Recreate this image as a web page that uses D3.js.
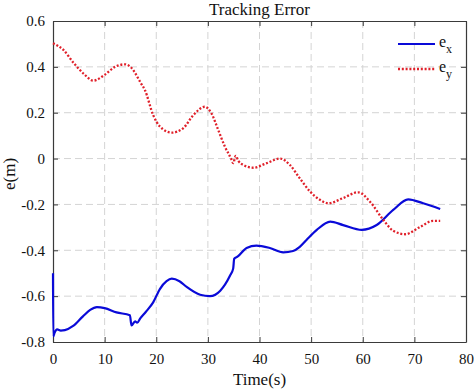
<!DOCTYPE html>
<html>
<head>
<meta charset="utf-8">
<script src="https://cdn.jsdelivr.net/npm/d3@7"></script>
<style>
  html, body { margin: 0; padding: 0; background: #fff; }
  svg { display: block; }
  text { font-family: "Liberation Serif", "DejaVu Serif", serif; fill: #111; }
</style>
</head>
<body>
<svg id="chart" width="474" height="391"></svg>
<script>
// ---- data ----
const xTicks = [0, 10, 20, 30, 40, 50, 60, 70, 80];
const yTicks = [-0.8, -0.6, -0.4, -0.2, 0, 0.2, 0.4, 0.6];
const yTickLabels = ["-0.8", "-0.6", "-0.4", "-0.2", "0", "0.2", "0.4", "0.6"];

const exTime = [0, 0.05, 0.3, 0.8, 1.5, 2.3, 3.9, 5.8, 7.2, 8.5, 10, 12.3, 14.9, 15.2, 15.9, 16.3, 16.9, 18, 19.4, 20.7, 22, 23, 24.5, 25.9, 28.5, 30.4, 32.4, 34.3, 34.9, 35.1, 35.8, 37.5, 39.4, 42, 44.6, 46.5, 47.8, 49.1, 51.1, 53.7, 56.2, 59.8, 62.7, 65.9, 68.8, 71.7, 75];
const exValue = [-0.5, -0.775, -0.76, -0.745, -0.75, -0.748, -0.73, -0.688, -0.66, -0.648, -0.652, -0.671, -0.683, -0.728, -0.71, -0.716, -0.697, -0.668, -0.627, -0.569, -0.535, -0.524, -0.535, -0.56, -0.594, -0.6, -0.576, -0.51, -0.48, -0.437, -0.427, -0.39, -0.38, -0.39, -0.409, -0.403, -0.385, -0.355, -0.311, -0.275, -0.29, -0.311, -0.29, -0.224, -0.178, -0.195, -0.22];

const eyTime = [0, 2, 4, 6, 7.8, 10, 12, 13.9, 15, 17, 17.8, 19.4, 20.7, 23, 25.2, 27.2, 29.4, 30.7, 32, 33.3, 34.6, 34.9, 35.4, 35.9, 36.9, 38.8, 41.4, 44, 45.9, 47.8, 49.8, 51.7, 53.3, 56.2, 59.1, 61.4, 64, 65.9, 68.2, 71.1, 73.6, 75];
const eyValue = [0.503, 0.474, 0.417, 0.369, 0.34, 0.365, 0.4, 0.411, 0.4, 0.33, 0.299, 0.19, 0.14, 0.113, 0.132, 0.19, 0.226, 0.197, 0.125, 0.052, -0.005, -0.02, 0.012, -0.01, -0.028, -0.04, -0.02, 0.0, -0.028, -0.086, -0.144, -0.18, -0.195, -0.172, -0.147, -0.188, -0.268, -0.315, -0.33, -0.298, -0.272, -0.272];

const seriesNames = ["x", "y"];

// ---- layout ----
const svg = d3.select("#chart");
const L = 53, R = 466, T = 21, B = 342;

const xScale = d3.scaleLinear().domain([0, 80]).range([L, R]);
const yScale = d3.scaleLinear().domain([-0.8, 0.6]).range([B, T]);

// grid
const grid = svg.append("g");
grid.selectAll("line.vx").data(xTicks.slice(1, -1)).join("line")
  .attr("x1", d => xScale(d)).attr("x2", d => xScale(d)).attr("y1", T).attr("y2", B)
  .attr("stroke", "#d4d4d4").attr("stroke-width", 1).attr("stroke-dasharray", "7,4");
grid.selectAll("line.hy").data(yTicks.slice(1, -1)).join("line")
  .attr("y1", d => yScale(d)).attr("y2", d => yScale(d)).attr("x1", L).attr("x2", R)
  .attr("stroke", "#d4d4d4").attr("stroke-width", 1).attr("stroke-dasharray", "7,4");

// axes (ticks inside, box)
const axisColor = "#3a3a3a";
const gBottom = svg.append("g").attr("transform", `translate(0,${B})`)
  .call(d3.axisBottom(xScale).tickValues(xTicks).tickSizeInner(-5).tickSizeOuter(0).tickPadding(11).tickFormat(d3.format("d")));
const gLeft = svg.append("g").attr("transform", `translate(${L},0)`)
  .call(d3.axisLeft(yScale).tickValues(yTicks).tickSizeInner(-5).tickSizeOuter(0).tickPadding(8)
    .tickFormat((d, i) => yTickLabels[i]));
const gTop = svg.append("g").attr("transform", `translate(0,${T})`)
  .call(d3.axisTop(xScale).tickValues(xTicks).tickSizeInner(-5).tickSizeOuter(0).tickFormat(""));
const gRight = svg.append("g").attr("transform", `translate(${R},0)`)
  .call(d3.axisRight(yScale).tickValues(yTicks).tickSizeInner(-5).tickSizeOuter(0).tickFormat(""));

[gBottom, gLeft, gTop, gRight].forEach(g => {
  g.select(".domain").attr("stroke", axisColor).attr("stroke-width", 1.2);
  g.selectAll(".tick line").attr("stroke", axisColor);
  g.selectAll(".tick text").style("font-family", "'Liberation Serif', serif").style("font-size", "15px").attr("fill", "#111");
});

// curves
const line = d3.line().x(d => xScale(d[0])).y(d => yScale(d[1])).curve(d3.curveMonotoneX);
const exData = exTime.map((t, i) => [t, exValue[i]]);
const eyData = eyTime.map((t, i) => [t, eyValue[i]]);

svg.append("path").datum(exData).attr("d", line)
  .attr("fill", "none").attr("stroke", "#0a0ad8").attr("stroke-width", 2.2);
svg.append("path").datum(eyData).attr("d", line)
  .attr("fill", "none").attr("stroke", "#e0202a").attr("stroke-width", 2.3)
  .attr("stroke-dasharray", "2,1.8");

// legend
const lg = svg.append("g");
lg.append("line").attr("x1", 398).attr("x2", 435).attr("y1", 44).attr("y2", 44)
  .attr("stroke", "#0a0ad8").attr("stroke-width", 2.2);
lg.append("line").attr("x1", 398).attr("x2", 435).attr("y1", 69).attr("y2", 69)
  .attr("stroke", "#e0202a").attr("stroke-width", 2.3).attr("stroke-dasharray", "2,1.8");
[[47, seriesNames[0]], [72, seriesNames[1]]].forEach(([by, s]) => {
  const t = lg.append("text").attr("x", 439).attr("y", by).style("font-size", "16px");
  t.append("tspan").text("e");
  t.append("tspan").attr("dy", 6).style("font-size", "12px").text(s);
});

// title & labels
svg.append("text").attr("x", (L + R) / 2).attr("y", 15).attr("text-anchor", "middle")
  .style("font-size", "17px").text("Tracking Error");
svg.append("text").attr("x", (L + R) / 2).attr("y", 385).attr("text-anchor", "middle")
  .style("font-size", "17px").text("Time(s)");
svg.append("text").attr("transform", "translate(15,174) rotate(-90)").attr("text-anchor", "middle")
  .style("font-size", "17px").text("e(m)");
</script>
</body>
</html>
